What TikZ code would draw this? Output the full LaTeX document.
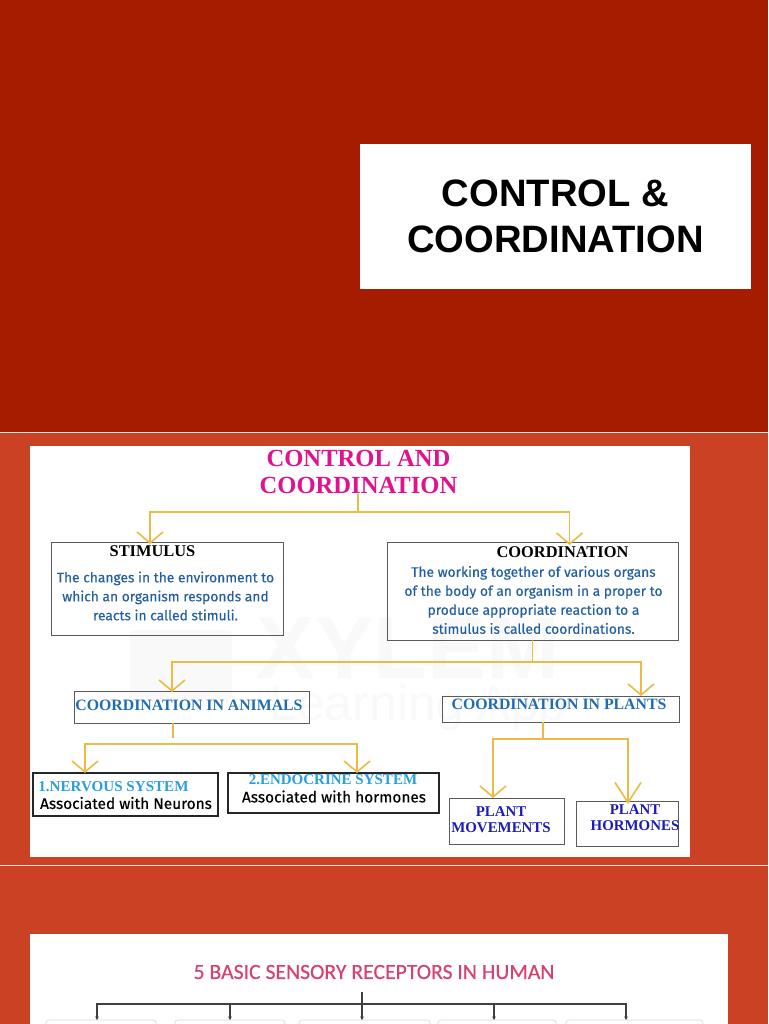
\documentclass[tikz,border=0pt]{standalone}
\usepackage{fontspec}
\setmainfont{Liberation Serif}
\newfontfamily\slidefont{Liberation Sans}
\newfontfamily\handfont[FakeBold=0.35]{Fira Sans}
\newfontfamily\calfont[FakeBold=0.3]{Carlito}
\usepackage{xcolor}
\usepackage{tikz}
\usetikzlibrary{arrows.meta, positioning}
\definecolor{slideTop}{HTML}{A51C00}
\definecolor{slideLow}{HTML}{CB4124}
\definecolor{chartGold}{HTML}{EBBB45}
\definecolor{chartPink}{HTML}{E0128F}
\definecolor{chartBlue}{HTML}{1F6DB0}
\definecolor{chartBody}{HTML}{24609F}
\definecolor{chartSky}{HTML}{2A9FE0}
\definecolor{chartPlant}{HTML}{1C1CB8}
\definecolor{chartEdge}{HTML}{5A5A5A}
\definecolor{senseTitle}{HTML}{D8406E}

\begin{document}
\begin{tikzpicture}[
  x=1pt, y=-1pt,
  box/.style={draw=chartEdge, line width=1pt, inner sep=0pt, outer sep=0pt},
  darkbox/.style={box, draw=black!85, line width=1.4pt},
  sensebox/.style={draw=black!15, rounded corners=3pt, line width=0.7pt, inner sep=0pt, outer sep=0pt},
  faint/.style={text=black!2.5, inner sep=0pt},
  head/.style={font=\fontsize{16.4}{18}\selectfont\bfseries, text=black, inner sep=0pt},
  body/.style={font=\handfont\fontsize{13.8}{19}\selectfont, text=chartBody, align=center, inner sep=0pt},
  branch/.style={font=\fontsize{15.8}{18}\selectfont\bfseries, text=chartBlue, inner sep=0pt},
  plant/.style={font=\fontsize{14.9}{16.2}\selectfont\bfseries, text=chartPlant, align=center, inner sep=0pt},
  line/.style={draw=chartGold, line width=1.6pt},
  a/.style={line, -{Straight Barb[length=11pt, width=26pt, line width=1.6pt]}},
  abig/.style={line, -{Straight Barb[length=20pt, width=26pt, line width=1.6pt]}},
  s/.style={draw=black!75, line width=1.1pt, -{Stealth[length=3.5pt, width=3.5pt]}}
]
\useasboundingbox (0,0) rectangle (768,1024);
\clip (0,0) rectangle (768,1024);
% slides
\fill[slideTop] (0,0) rectangle (768,432);
\fill[slideLow] (0,433) rectangle (768,1024);
\fill[white!85!slideLow] (0,432) rectangle (768,433);
\fill[white!85!slideLow] (0,865) rectangle (768,866);
\node[fill=white, minimum width=391, minimum height=145, inner sep=0pt, align=center,
      font=\slidefont\fontsize{38.2}{45.5}\selectfont\bfseries] (cover) at (555.5,216.5) {CONTROL \&\\COORDINATION};

% second slide
\node[fill=white, minimum width=660, minimum height=411, inner sep=0pt] (panel) at (360,651.5) {};
\node[fill=black!2.5, rounded corners=4pt, minimum width=102, minimum height=72, inner sep=0pt] (marklogo) at (181,666) {};
\node[faint, font=\slidefont\fontsize{88}{88}\selectfont\bfseries] (markname) at (408,648) {XYLEM};
\node[faint, font=\slidefont\fontsize{50}{50}\selectfont] (markapp) at (418,708) {Learning App};
\node[font=\fontsize{24.6}{27}\selectfont\bfseries, text=chartPink, align=center, inner sep=0pt] (title) at (358.5,472) {CONTROL AND\\COORDINATION};

\node[box, minimum width=232, minimum height=93] (stimulus) at (167,588.5) {};
\node[head] (stimhead) at (152.5,551) {STIMULUS};
\node[body] (stimtext) at (165.5,596) {The changes in the environment to\\which an organism responds and\\reacts in called stimuli.};
\node[box, minimum width=291, minimum height=98] (coord) at (532.5,591) {};
\node[head] (coordhead) at (562.5,552) {COORDINATION};
\node[body] (coordtext) at (533.5,600) {The working together of various organs\\of the body of an organism in a proper to\\produce appropriate reaction to a\\stimulus is called coordinations.};

\node[box, minimum width=235, minimum height=32] (animals) at (191.5,707) {};
\node[branch] (animalstext) at (189,705) {COORDINATION IN ANIMALS};
\node[box, minimum width=237, minimum height=26] (plants) at (560.5,709) {};
\node[branch] (plantstext) at (559,704.5) {COORDINATION IN PLANTS};

\node[darkbox, minimum width=185, minimum height=43] (nervous) at (125.5,794.5) {};
\node[font=\fontsize{15.1}{17}\selectfont\bfseries, text=chartSky, inner sep=0pt] (nervoushead) at (113.5,787) {1.NERVOUS SYSTEM};
\node[font=\handfont\fontsize{15.4}{17}\selectfont, text=black, inner sep=0pt] (nervoustext) at (126,803) {Associated with Neurons};
\node[darkbox, minimum width=211, minimum height=40] (endocrine) at (333.5,793) {};
\node[font=\fontsize{15}{17}\selectfont\bfseries, text=chartSky, inner sep=0pt] (endocrinehead) at (333,780) {2.ENDOCRINE SYSTEM};
\node[font=\handfont\fontsize{15.4}{17}\selectfont, text=black, inner sep=0pt] (endocrinetext) at (334,796.5) {Associated with hormones};

\node[box, minimum width=115, minimum height=46] (movements) at (506.5,821) {};
\node[plant] (movementstext) at (501,820) {PLANT\\MOVEMENTS};
\node[box, minimum width=102, minimum height=45] (hormones) at (627,823.5) {};
\node[plant] (hormonestext) at (635,818) {PLANT\\HORMONES};

\coordinate (titlejoin) at (358,512);
\coordinate (coordjoin) at (532.5,662);
\coordinate (animalsstub) at (173,738);
\coordinate (animalsjoin) at (173,744);
\coordinate (plantsjoin) at (543,739);

\draw[line] (title.south -| titlejoin) -- (titlejoin);
\draw[a] (titlejoin) -| ([xshift=-17pt,yshift=-2pt]stimulus.north);
\draw[a] (titlejoin) -| ([xshift=37pt,yshift=-3pt]coord.north);
\draw[line] (coord.south) -- (coordjoin);
\draw[a] (coordjoin) -| ([xshift=-19.5pt,yshift=-1pt]animals.north);
\draw[a] (coordjoin) -| ([xshift=80.5pt]plants.north);
\draw[line] (animals.south -| animalsstub) -- (animalsstub);
\draw[a] (animalsjoin) -| ([xshift=-40.5pt]nervous.north);
\draw[a] (animalsjoin) -| ([xshift=23.5pt]endocrine.north);
\draw[line] (plants.south -| plantsjoin) -- (plantsjoin);
\draw[a] (plantsjoin) -| ([xshift=-13.5pt]movements.north);
\draw[abig] (plantsjoin) -| ([xshift=1pt,yshift=-3pt]hormones.north);

% third slide
\node[fill=white, minimum width=698, minimum height=110, anchor=north west, inner sep=0pt] (senses) at (30,934) {};
\node[font=\calfont\fontsize{21.7}{24}\selectfont, text=senseTitle, inner sep=0pt] (sensetitle) at (374,972) {5 BASIC SENSORY RECEPTORS IN HUMAN};
\node[sensebox, minimum width=110, minimum height=30, anchor=north west] (sight) at (46,1020) {};
\node[sensebox, minimum width=110, minimum height=30, anchor=north west] (hear) at (175,1020) {};
\node[sensebox, minimum width=131, minimum height=30, anchor=north west] (smell) at (299,1020) {};
\node[sensebox, minimum width=118, minimum height=30, anchor=north west] (taste) at (438,1020) {};
\node[sensebox, minimum width=137, minimum height=30, anchor=north west] (touch) at (566,1020) {};
\coordinate (sensetop) at (362,992);
\coordinate (sensejoin) at (362,1004);
\draw[draw=black!75, line width=1.1pt] (sensetop) -- (sensejoin);
\draw[s] (sensejoin) -| ([xshift=-4pt]sight.north);
\draw[s] (sensejoin) -| (hear.north);
\draw[s] (sensejoin) -- (sensejoin |- smell.north);
\draw[s] (sensejoin) -| ([xshift=-3pt]taste.north);
\draw[s] (sensejoin) -| ([xshift=-8.5pt]touch.north);
\end{tikzpicture}
\end{document}
